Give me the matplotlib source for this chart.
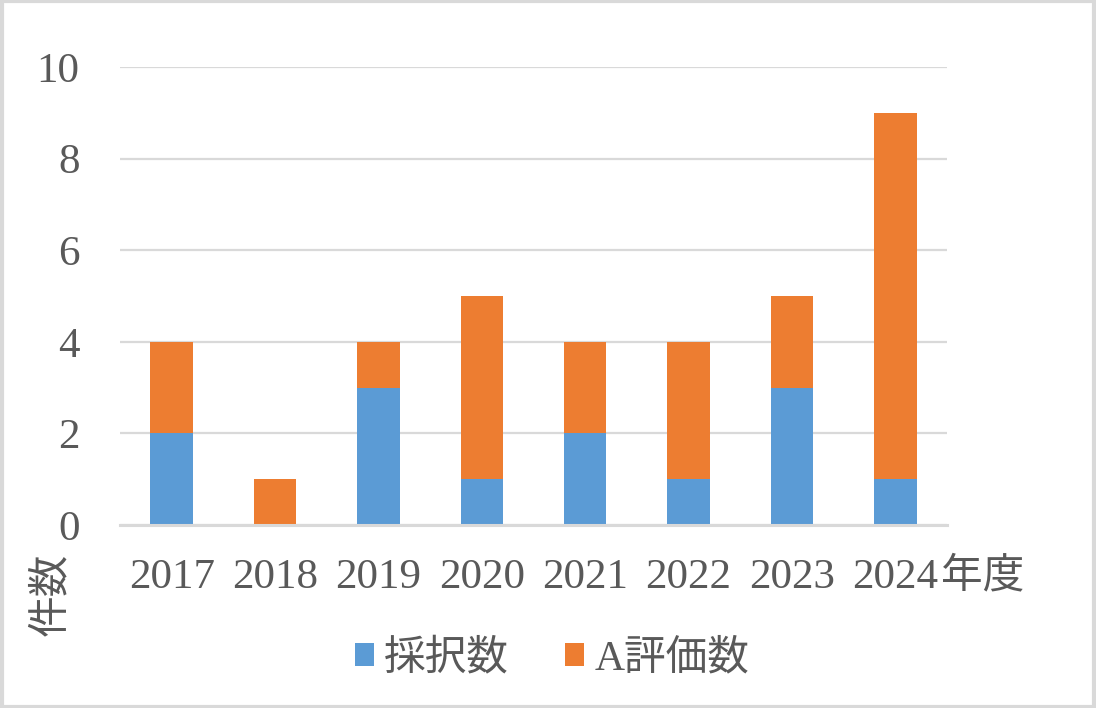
import matplotlib
matplotlib.use("Agg")
import matplotlib.pyplot as plt
from matplotlib.patches import Rectangle

years = ["2017", "2018", "2019", "2020", "2021", "2022", "2023", "2024"]
adopted = [2, 0, 3, 1, 2, 1, 3, 1]          # 採択数
a_eval = [2, 1, 1, 4, 2, 3, 2, 8]           # A評価数
yticks = [0, 2, 4, 6, 8, 10]

BLUE = "#5B9BD5"
ORANGE = "#ED7D31"
TXT = "#595959"
GRID = "#D9D9D9"
FONT = ["Liberation Serif", "Noto Sans CJK JP", "DejaVu Sans"]
plt.rcParams["font.family"] = FONT

fig = plt.figure(figsize=(10.96, 7.08), dpi=100)
ax = fig.add_axes([120 / 1096, 1 - 525 / 708, (947 - 120) / 1096, (525 - 67) / 708])

x = list(range(len(years)))
w = 0.41
ax.bar(x, adopted, w, color=BLUE, label="採択数", zorder=3)
ax.bar(x, a_eval, w, bottom=adopted, color=ORANGE, label="A評価数", zorder=3)

ax.set_xlim(-0.5, len(years) - 0.5)
ax.set_ylim(0, 10)
ax.set_yticks(yticks)
ax.set_yticklabels([str(v) for v in yticks])
ax.set_xticks(x)
ax.set_xticklabels(years)
ax.yaxis.grid(True, color=GRID, linewidth=1.6, zorder=0)
ax.set_axisbelow(True)
for s in ["top", "right", "left"]:
    ax.spines[s].set_visible(False)
ax.spines["bottom"].set_color(GRID)
ax.spines["bottom"].set_linewidth(2.2)
ax.spines["bottom"].set_zorder(4)
ax.tick_params(axis="both", length=0, labelsize=31, colors=TXT)
ax.tick_params(axis="y", pad=29)
ax.tick_params(axis="x", pad=24)

fig.text(941 / 1096, 1 - 577 / 708, "年度", fontsize=30, color=TXT,
         ha="left", va="center")
fig.text(52 / 1096, 1 - 594 / 708, "件数", fontsize=30, color=TXT,
         ha="center", va="center", rotation=90)

leg = fig.legend(loc="center", bbox_to_anchor=(552 / 1096, 1 - 659 / 708),
                 ncol=2, frameon=False, fontsize=30, labelcolor=TXT,
                 handlelength=0.45, handleheight=0.45, handletextpad=0.25,
                 columnspacing=1.35)

fig.patches.append(Rectangle((0.0015, 0.002), 0.997, 0.996, transform=fig.transFigure,
                             fill=False, edgecolor=GRID, linewidth=3))

fig.savefig("out.png", dpi=100, facecolor="white")
